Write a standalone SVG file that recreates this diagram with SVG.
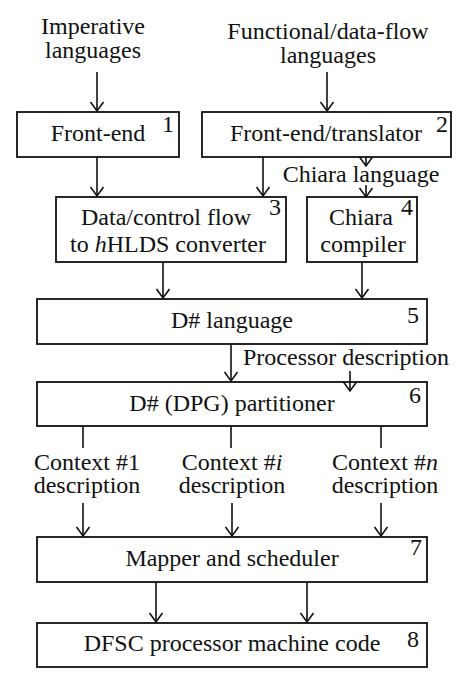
<svg xmlns="http://www.w3.org/2000/svg" width="474" height="686" viewBox="0 0 474 686" font-family="'Liberation Serif', serif">
<defs>
<style>
text{font-family:'Liberation Serif','Times New Roman',serif;font-size:24px;fill:#111}
.c{text-anchor:middle}
.n{text-anchor:end}
.box{fill:none;stroke:#111;stroke-width:1.8}
.ln{stroke:#111;stroke-width:1.6;fill:none}
.ar{marker-end:url(#ah)}
</style>
<marker id="ah" markerUnits="userSpaceOnUse" viewBox="-12 -9 14 18" markerWidth="14" markerHeight="18" refX="0" refY="0" orient="auto" overflow="visible">
<path d="M-9,-6.5 L0,0 L-9,6.5" fill="none" stroke="#111" stroke-width="1.6"/>
</marker>
</defs>
<rect width="474" height="686" fill="#fff"/>
<g id="imperative">
<text class="c" x="93" y="34">Imperative</text>
<text class="c" x="93" y="58">languages</text>
</g>
<g id="functional">
<text class="c" x="328" y="39">Functional/data-flow</text>
<text class="c" x="328" y="63">languages</text>
</g>
<g id="node1">
<rect class="box" x="17" y="112" width="162" height="45"/>
<text class="c" x="98" y="141">Front-end</text>
<text class="n" x="174" y="132">1</text>
</g>
<g id="node2">
<rect class="box" x="202" y="112" width="249" height="45"/>
<text class="c" x="326" y="141">Front-end/translator</text>
<text class="n" x="448" y="132">2</text>
</g>
<g id="chiara-language">
<text class="c" x="361" y="182">Chiara language</text>
</g>
<g id="node3">
<rect class="box" x="56" y="197" width="230" height="65"/>
<text class="c" x="166" y="225">Data/control flow</text>
<text class="c" x="168" y="252">to <tspan font-style="italic">h</tspan>HLDS converter</text>
<text class="n" x="281" y="215">3</text>
</g>
<g id="node4">
<rect class="box" x="307" y="197" width="110" height="65"/>
<text class="c" x="361" y="225">Chiara</text>
<text class="c" x="363" y="252">compiler</text>
<text class="n" x="413" y="215">4</text>
</g>
<g id="node5">
<rect class="box" x="37" y="299" width="390" height="45"/>
<text class="c" x="232" y="328">D# language</text>
<text class="n" x="419" y="323">5</text>
</g>
<g id="processor-description">
<text x="243" y="365">Processor description</text>
</g>
<g id="node6">
<rect class="box" x="37" y="382" width="390" height="44"/>
<text class="c" x="232" y="411">D# (DPG) partitioner</text>
<text class="n" x="421" y="403">6</text>
</g>
<g id="context1">
<text class="c" x="87" y="470">Context #1</text>
<text class="c" x="87" y="493">description</text>
</g>
<g id="contexti">
<text class="c" x="232" y="470">Context #<tspan font-style="italic">i</tspan></text>
<text class="c" x="232" y="493">description</text>
</g>
<g id="contextn">
<text class="c" x="385" y="470">Context #<tspan font-style="italic">n</tspan></text>
<text class="c" x="385" y="493">description</text>
</g>
<g id="node7">
<rect class="box" x="37" y="537" width="390" height="45"/>
<text class="c" x="232" y="566">Mapper and scheduler</text>
<text class="n" x="422" y="555">7</text>
</g>
<g id="node8">
<rect class="box" x="37" y="623" width="390" height="44"/>
<text class="c" x="232" y="651">DFSC processor machine code</text>
<text class="n" x="419" y="647">8</text>
</g>
<g id="connectors">
<line class="ln ar" x1="97" y1="72" x2="97" y2="111"/>
<line class="ln ar" x1="327" y1="72" x2="327" y2="111"/>
<line class="ln ar" x1="97" y1="157" x2="97" y2="196"/>
<line class="ln ar" x1="263" y1="157" x2="263" y2="196"/>
<line class="ln ar" x1="366" y1="157" x2="366" y2="166"/>
<line class="ln ar" x1="366" y1="185" x2="366" y2="197"/>
<line class="ln ar" x1="163" y1="262" x2="163" y2="298"/>
<line class="ln ar" x1="362" y1="262" x2="362" y2="298"/>
<line class="ln ar" x1="231" y1="344" x2="231" y2="381"/>
<line class="ln ar" x1="350" y1="371" x2="350" y2="391"/>
<line class="ln" x1="83" y1="426" x2="83" y2="448"/>
<line class="ln" x1="231" y1="426" x2="231" y2="448"/>
<line class="ln" x1="381" y1="426" x2="381" y2="448"/>
<line class="ln ar" x1="83" y1="503" x2="83" y2="536"/>
<line class="ln ar" x1="232" y1="503" x2="232" y2="536"/>
<line class="ln ar" x1="381" y1="503" x2="381" y2="536"/>
<line class="ln ar" x1="156" y1="582" x2="156" y2="622"/>
<line class="ln ar" x1="307" y1="582" x2="307" y2="622"/>
</g>
</svg>
